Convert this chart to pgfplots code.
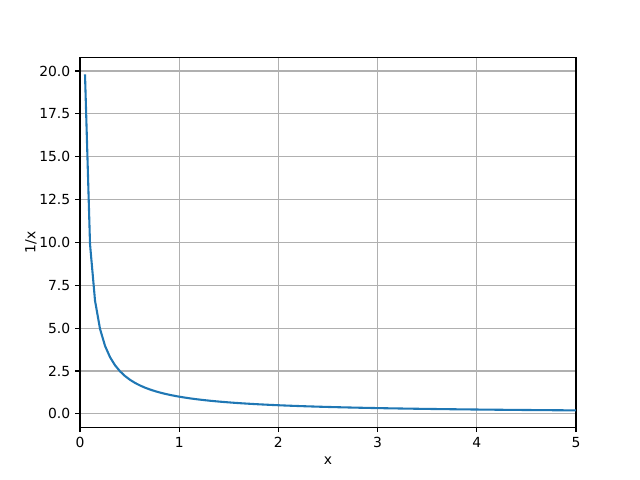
\documentclass[border=0pt]{standalone}
\usepackage{pgfplots}
\pgfplotsset{compat=1.18}
\usepackage{fontspec}
\setmainfont{DejaVu Sans}
\definecolor{mplblue}{HTML}{1F77B4}
\definecolor{mplgrid}{HTML}{B0B0B0}
\begin{document}
\fontsize{10}{12}\selectfont
\begin{tikzpicture}
\begin{axis}[
  scale only axis,
  width=357.12pt, height=266.1pt,
  xmin=0, xmax=5,
  ymin=-0.78, ymax=20.78,
  xtick={0,1,2,3,4,5},
  ytick={0,2.5,5,7.5,10,12.5,15,17.5,20},
  yticklabel style={/pgf/number format/fixed, /pgf/number format/fixed zerofill, /pgf/number format/precision=1},
  /pgf/number format/assume math mode=true,
  tick label style={font=\fontsize{10}{12}\selectfont},
  label style={font=\fontsize{10}{12}\selectfont},
  ylabel style={yshift=-5pt},
  tick align=outside,
  major tick length=3.5pt,
  tick style={black, line width=0.8pt},
  axis line style={line width=0.8pt},
  xtick pos=bottom, ytick pos=left,
  grid=major,
  major grid style={mplgrid, line width=0.8pt},
  xlabel={x},
  ylabel={1/x},
]
\addplot[mplblue, line width=1.5pt, no marks] coordinates {
(0.0505,19.8) (0.1010,9.9) (0.1515,6.6) (0.2020,4.95) (0.2525,3.96)
(0.3030,3.3) (0.3535,2.8286) (0.4040,2.475) (0.4545,2.2) (0.5051,1.98)
(0.5556,1.8) (0.6061,1.65) (0.6566,1.5231) (0.7071,1.4143) (0.7576,1.32)
(0.8081,1.2375) (0.8586,1.1647) (0.9091,1.1) (0.9596,1.0421) (1.0101,0.99)
(1.0606,0.9429) (1.1111,0.9) (1.1616,0.8609) (1.2121,0.825) (1.2626,0.792)
(1.3131,0.7615) (1.3636,0.7333) (1.4141,0.7071) (1.4646,0.6828) (1.5152,0.66)
(1.5657,0.6387) (1.6162,0.6188) (1.6667,0.6) (1.7172,0.5824) (1.7677,0.5657)
(1.8182,0.55) (1.8687,0.5351) (1.9192,0.5211) (1.9697,0.5077) (2.0202,0.495)
(2.0707,0.4829) (2.1212,0.4714) (2.1717,0.4605) (2.2222,0.45) (2.2727,0.44)
(2.3232,0.4304) (2.3737,0.4213) (2.4242,0.4125) (2.4747,0.4041) (2.5253,0.396)
(2.5758,0.3882) (2.6263,0.3808) (2.6768,0.3736) (2.7273,0.3667) (2.7778,0.36)
(2.8283,0.3536) (2.8788,0.3474) (2.9293,0.3414) (2.9798,0.3356) (3.0303,0.33)
(3.0808,0.3246) (3.1313,0.3194) (3.1818,0.3143) (3.2323,0.3094) (3.2828,0.3046)
(3.3333,0.3) (3.3838,0.2955) (3.4343,0.2912) (3.4848,0.2870) (3.5354,0.2829)
(3.5859,0.2789) (3.6364,0.275) (3.6869,0.2712) (3.7374,0.2676) (3.7879,0.264)
(3.8384,0.2605) (3.8889,0.2571) (3.9394,0.2538) (3.9899,0.2506) (4.0404,0.2475)
(4.0909,0.2444) (4.1414,0.2415) (4.1919,0.2386) (4.2424,0.2357) (4.2929,0.2329)
(4.3434,0.2302) (4.3939,0.2276) (4.4444,0.225) (4.4949,0.2225) (4.5455,0.22)
(4.5960,0.2176) (4.6465,0.2152) (4.6970,0.2129) (4.7475,0.2106) (4.7980,0.2084)
(4.8485,0.2063) (4.8990,0.2041) (4.9495,0.2020) (5.0000,0.2)
};
\end{axis}
% page size as in the 6.4in x 4.8in figure
\path ([shift={(-57.6pt,-38.02pt)}]current axis.south west) rectangle ([shift={(46.08pt,41.47pt)}]current axis.north east);
\end{tikzpicture}
\end{document}
